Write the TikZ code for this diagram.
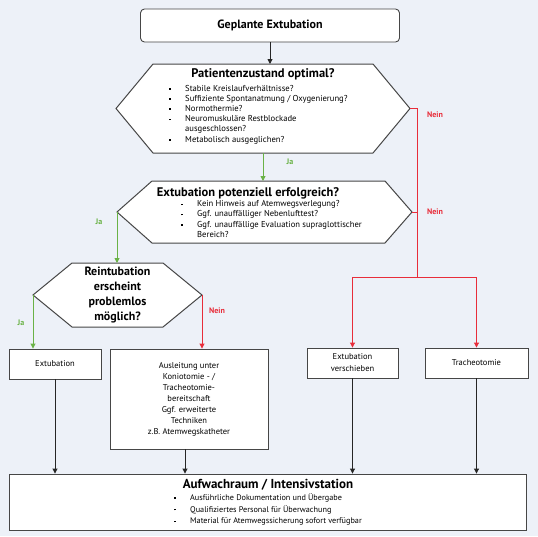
\documentclass[tikz,border=0pt]{standalone}
\usepackage{fontspec}
\setmainfont{PT Sans}
\usetikzlibrary{arrows.meta}
\definecolor{bg}{RGB}{237,241,248}
\definecolor{gr}{RGB}{106,178,70}
\definecolor{rd}{RGB}{232,45,58}
\definecolor{ln}{RGB}{70,70,70}
\newcommand\bul{\raisebox{1.6pt}{\rule{1.5pt}{1.5pt}}}
\newcommand\bl{\makebox[16pt][l]{\bul}}
\newcommand\ind{\hspace*{16pt}}
\begin{document}
\begin{tikzpicture}[x=1pt,y=-1pt,
  box/.style={draw=ln, line width=0.9pt, fill=white, inner sep=0pt, align=center, font=\fontsize{8.5}{11}\selectfont},
  hex/.style={draw=ln, line width=1pt, fill=white},
  arr/.style={draw=black!85, line width=0.9pt, -{Triangle[length=5pt,width=5pt]}},
  garr/.style={arr, draw=gr},
  rarr/.style={arr, draw=rd},
  rline/.style={draw=rd, line width=0.9pt},
  jlbl/.style={text=gr, font=\fontsize{8}{9}\selectfont\bfseries},
  nlbl/.style={text=rd, font=\fontsize{8}{9}\selectfont\bfseries},
  list/.style={anchor=west, align=left, inner sep=0pt, font=\fontsize{8.6}{10.2}\selectfont},
  ttl/.style={inner sep=0pt, font=\fontsize{12.5}{14}\selectfont\bfseries}
]
\fill[bg] (0,0) rectangle (538,536);
\useasboundingbox (0,0) rectangle (538,536);

% start
\node[box, rounded corners=4pt, minimum width=259pt, minimum height=33pt, font=\fontsize{12}{14}\selectfont\bfseries] (start) at (270,25.5) {Geplante Extubation};

% hexagon 1
\draw[hex] (116,108.5) -- (153,64) -- (373,64) -- (410,108.5) -- (373,153) -- (153,153) -- cycle;
\coordinate (h1top) at (270,64);
\coordinate (h1right) at (410,108.5);
\coordinate (h1bot) at (263,153);
\node[ttl] (h1title) at (263,74) {Patientenzustand optimal?};
\node[list] (h1list) at (169,114.5) {\bl Stabile Kreislaufverhältnisse?\\
\bl Suffiziente Spontanatmung / Oxygenierung?\\
\bl Normothermie?\\
\bl Neuromuskuläre Restblockade\\
\ind ausgeschlossen?\\
\bl Metabolisch ausgeglichen?};

% hexagon 2
\draw[hex] (117,212) -- (152,181) -- (385,181) -- (412,212) -- (385,243) -- (152,243) -- cycle;
\coordinate (h2top) at (263,181);
\coordinate (h2left) at (117,212);
\coordinate (h2right) at (412,212);
\node[ttl] (h2title) at (248,193) {Extubation potenziell erfolgreich?};
\node[list] (h2list) at (181,219) {\bl Kein Hinweis auf Atemwegsverlegung?\\
\bl Ggf. unauffälliger Nebenlufttest?\\
\bl Ggf. unauffällige Evaluation supraglottischer\\
\ind Bereich?};

% hexagon 3
\draw[hex] (33,295) -- (72,263) -- (163,263) -- (202,295) -- (163,327) -- (72,327) -- cycle;
\coordinate (h3top) at (117,263);
\coordinate (h3left) at (33,295);
\coordinate (h3right) at (202,295);
\node[inner sep=0pt, align=center, font=\fontsize{12}{14.7}\selectfont\bfseries] (h3) at (117.5,295) {Reintubation\\erscheint\\problemlos\\möglich?};

% boxes
\node[box, minimum width=92pt, minimum height=30pt] (ext) at (55,364) {Extubation};
\node[box, minimum width=158pt, minimum height=100pt] (ausl) at (189,399) {Ausleitung unter\\Koniotomie - /\\Tracheotomie-\\bereitschaft\\Ggf. erweiterte\\Techniken\\z.B. Atemwegskatheter};
\node[box, minimum width=91pt, minimum height=30pt, font=\fontsize{8.5}{12}\selectfont] (versch) at (352.5,363) {Extubation\\verschieben};
\node[box, minimum width=103pt, minimum height=30pt] (trach) at (476.5,363) {Tracheotomie};

% bottom box
\node[box, minimum width=517pt, minimum height=56pt] (bot) at (267.5,502) {};
\node[inner sep=0pt, font=\fontsize{13}{15}\selectfont\bfseries] (bottitle) at (268,485) {Aufwachraum / Intensivstation};
\node[list, font=\fontsize{8.2}{11.7}\selectfont] (botlist) at (174,509.5) {\bl Ausführliche Dokumentation und Übergabe\\
\bl Qualifiziertes Personal für Überwachung\\
\bl Material für Atemwegssicherung sofort verfügbar};

% connectors
\draw[arr] (start.south) -- (h1top);
\draw[garr] (h1bot) -- (h2top);
\node[jlbl] (ja1) at (290,162) {Ja};

\coordinate (rj) at (417,277);
\draw[rline] (h1right) -| (rj);
\draw[rline] (h2right) -- (h2right -| rj);
\draw[rarr] (rj) -| (versch.north);
\draw[rarr] (rj) -| (trach.north);
\node[nlbl] (nein1) at (435,115) {Nein};
\node[nlbl] (nein2) at (435,212) {Nein};

\draw[garr] (h2left) -- (h3top);
\node[jlbl] (ja2) at (99,222) {Ja};

\draw[garr] (h3left) -- (h3left |- ext.north);
\node[jlbl] (ja3) at (21,323) {Ja};
\draw[rarr] (h3right) -- (h3right |- ausl.north);
\node[nlbl] (nein3) at (217,311) {Nein};

\draw[arr] (ext.south) -- (ext.south |- bot.north);
\draw[arr] ([xshift=-4pt]ausl.south) -- ([xshift=-4pt]ausl.south |- bot.north);
\draw[arr] (versch.south) -- (versch.south |- bot.north);
\draw[arr] (trach.south) -- (trach.south |- bot.north);
\end{tikzpicture}
\end{document}
